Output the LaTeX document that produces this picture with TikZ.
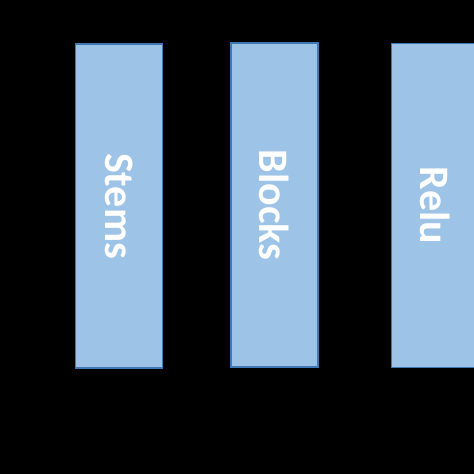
\documentclass[tikz,border=0pt]{standalone}
\usepackage{fontspec}
\setmainfont{Carlito}
\definecolor{boxfill}{HTML}{9DC3E6}
\definecolor{boxline}{HTML}{3F78B4}
\begin{document}
\begin{tikzpicture}[x=1pt,y=1pt,
  layer/.style={draw=boxline, line width=1.5pt, fill=boxfill, rotate=-90,
    minimum width=324pt, minimum height=87pt, inner sep=0pt, outer sep=0pt,
    text=white, font=\fontsize{42}{42}\selectfont\bfseries}]
\fill[black] (0,0) rectangle (474,474);
\useasboundingbox (0,0) rectangle (474,474);
\begin{scope}
\clip (0,0) rectangle (474,474);
\node[layer] (stems) at (119,268) {Stems};
\node[layer] (blocks) at (274.5,269) {Blocks};
\node[layer] (relu) at (435,268.5) {Relu};
\end{scope}
\end{tikzpicture}
\end{document}
